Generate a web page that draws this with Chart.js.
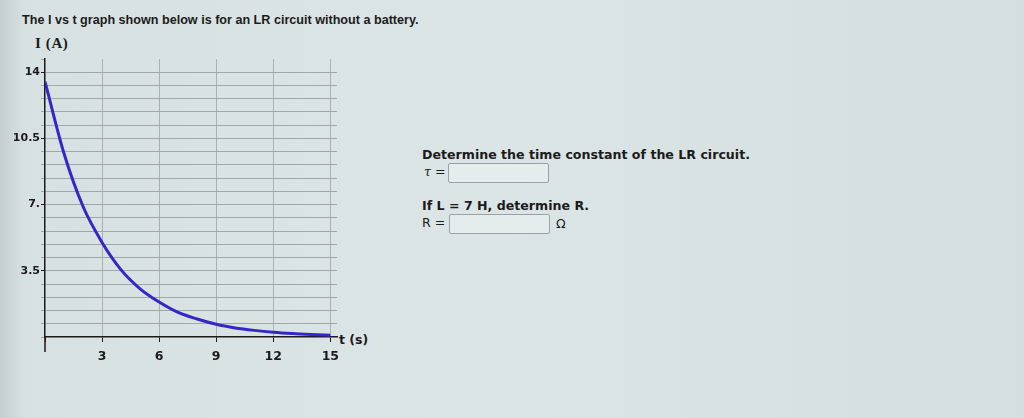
<!DOCTYPE html>
<html>
<head>
<meta charset="utf-8">
<script src="https://cdn.jsdelivr.net/npm/chart.js@4.4.1/dist/chart.umd.min.js"></script>
<style>
  html, body { margin: 0; padding: 0; }
  body {
    width: 1024px; height: 418px; overflow: hidden; position: relative;
    background: linear-gradient(to right, #c6cfcf 0px, #d8e1e1 25px, #dce5e5 500px, #d5dede 1024px);
    color: #1b1b1b;
  }
  .t { position: absolute; white-space: nowrap; }
  #titre { left: 22px; top: 13px; font: bold 12.6px "Liberation Sans", Arial, sans-serif; }
  #eixoY { left: 35px; top: 35px; font: bold 15px "Liberation Serif", serif; letter-spacing: 0.6px; }
  #eixoX { left: 339px; top: 332px; font: bold 12.5px "DejaVu Sans", sans-serif; }
  .q { font: 12.6px "DejaVu Sans", sans-serif; }
  .b { font-weight: bold; }
  .caixa { position: absolute; width: 99px; height: 18px; border: 1px solid #9aa1a3; border-radius: 2px; background: #e4ecec; }
  #grafico { position: absolute; left: 0; top: 0; width: 400px; height: 418px; }
</style>
</head>
<body>
<div class="t" id="titre">The I vs t graph shown below is for an LR circuit without a battery.</div>
<div class="t" id="eixoY">I (A)</div>
<div class="t" id="eixoX">t (s)</div>

<div class="t q b" style="left:422px; top:147px;">Determine the time constant of the LR circuit.</div>
<div class="t q" style="left:424px; top:164px; font-family:'DejaVu Serif',serif;"><i>τ</i> =</div>
<div class="caixa" style="left:448px; top:163px;"></div>
<div class="t q b" style="left:422px; top:198px;">If L = 7 H, determine R.</div>
<div class="t q" style="left:422px; top:215px;">R =</div>
<div class="caixa" style="left:449px; top:214px;"></div>
<div class="t q" style="left:556px; top:216px;">Ω</div>

<div id="grafico"><canvas id="grafico_lr"></canvas></div>

<script>
// tempo (s) e corrente (A)
const tempos = [0, 1, 2, 3, 4, 5, 6, 7, 8, 9, 10, 11, 12, 13, 14, 15]
const corrente = [13.5, 9.7, 6.9, 5.0, 3.55, 2.55, 1.85, 1.3, 0.95, 0.67, 0.48, 0.35, 0.25, 0.18, 0.13, 0.09]

const ticksX = [0, 3, 6, 9, 12, 15]
const rotulosX = ["", "3", "6", "9", "12", "15"]
const ticksYRotulados = [3.5, 7, 10.5, 14]
const rotulosY = ["3.5", "7.", "10.5", "14"]
const passoGradeY = 0.7
const maxY = 14.7
const maxX = 15.35

const pontos = tempos.map((t, i) => ({ x: t, y: corrente[i] }))

const indiceY = v => ticksYRotulados.findIndex(r => Math.abs(r - v) < 1e-6)

// prolonga o eixo y um pouco abaixo do eixo x, como no original
const extensaoEixo = {
  id: 'extensaoEixo',
  afterDatasetsDraw(chart) {
    const c = chart.ctx
    const x = chart.scales.x.getPixelForValue(0)
    const y = chart.scales.y.getPixelForValue(0)
    c.save()
    c.strokeStyle = '#1e1a1a'
    c.lineWidth = 1.5
    c.beginPath()
    c.moveTo(x, y)
    c.lineTo(x, y + 15)
    c.stroke()
    c.restore()
  }
}

const ctx = document.getElementById('grafico_lr')
let grafico = new Chart(ctx, {
  type: 'line',
  data: {
    datasets: [{
      data: pontos,
      borderColor: '#3327c9',
      borderWidth: 3,
      pointRadius: 0,
      cubicInterpolationMode: 'monotone',
      fill: false
    }]
  },
  options: {
    responsive: true,
    maintainAspectRatio: false,
    animation: false,
    layout: { padding: { top: 59, right: 63, left: 0, bottom: 0 } },
    plugins: { legend: { display: false }, tooltip: { enabled: false } },
    scales: {
      x: {
        type: 'linear',
        min: 0,
        max: maxX,
        afterBuildTicks: s => { s.ticks = ticksX.map(v => ({ value: v })) },
        afterFit: s => { s.height = 81 },
        grid: {
          color: c => c.tick && c.tick.value === 0 ? 'rgba(0,0,0,0)' : '#aab1b4',
          lineWidth: 1,
          tickLength: 5,
          tickColor: '#1e1a1a'
        },
        border: { color: '#1e1a1a', width: 1.5 },
        ticks: {
          autoSkip: false,
          maxRotation: 0,
          padding: 7,
          color: '#1b1b1b',
          font: { family: 'DejaVu Sans', size: 12.5, weight: 'bold' },
          callback: v => rotulosX[ticksX.indexOf(v)]
        }
      },
      y: {
        min: 0,
        max: maxY,
        afterBuildTicks: s => {
          const lista = []
          for (let i = 0; i <= 21; i++) lista.push({ value: Math.round(i * passoGradeY * 10) / 10 })
          s.ticks = lista
        },
        afterFit: s => { s.width = 45 },
        grid: {
          color: c => {
            if (!c.tick) return '#a0a7aa'
            if (c.tick.value === 0 || c.tick.value >= maxY) return 'rgba(0,0,0,0)'
            return '#a0a7aa'
          },
          lineWidth: 1,
          tickLength: 4,
          tickColor: c => c.tick && indiceY(c.tick.value) >= 0 ? '#1e1a1a' : '#a0a7aa'
        },
        border: { color: '#1e1a1a', width: 1.5 },
        ticks: {
          autoSkip: false,
          padding: 1,
          color: '#1b1b1b',
          font: { family: 'DejaVu Sans', size: 11, weight: 'bold' },
          callback: v => {
            const i = indiceY(v)
            return i >= 0 ? rotulosY[i] : ''
          }
        }
      }
    }
  },
  plugins: [extensaoEixo]
})
</script>
</body>
</html>
